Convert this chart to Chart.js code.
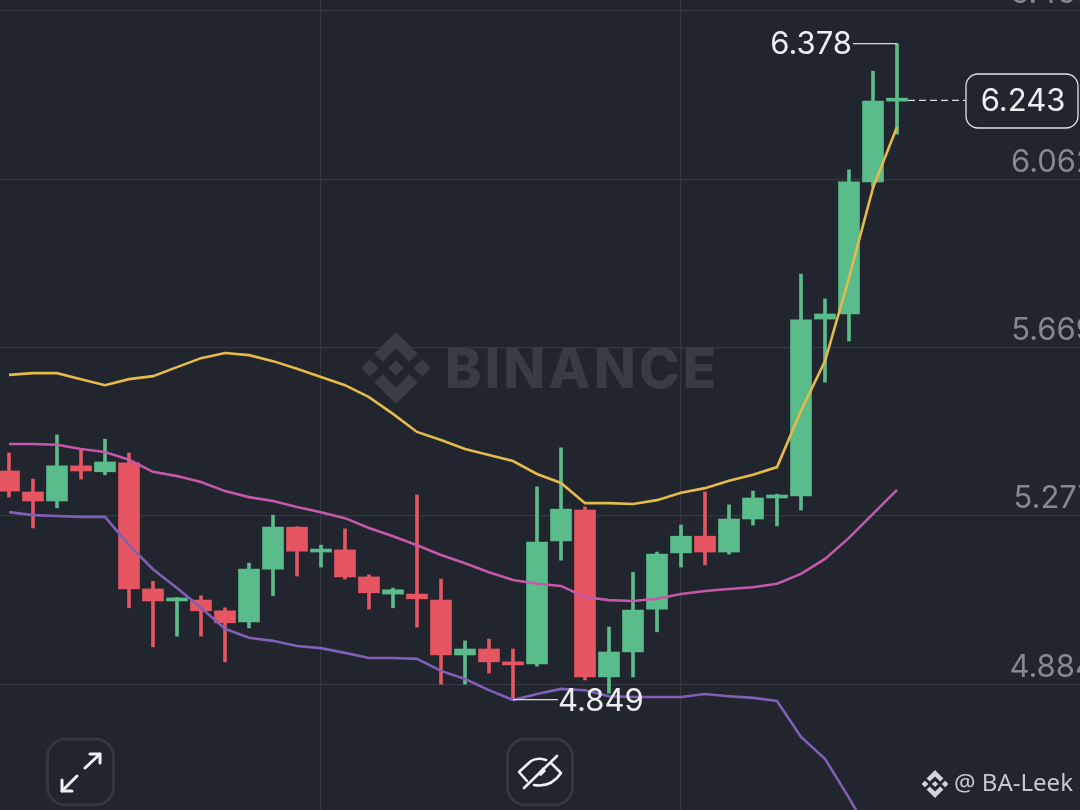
<!DOCTYPE html>
<html>
<head>
<meta charset="utf-8">
<style>
html,body{margin:0;padding:0;background:#21252e;overflow:hidden}
#wrap{width:1080px;height:810px;position:relative}
canvas{display:block}
</style>
<script src="https://cdn.jsdelivr.net/npm/chart.js@4/dist/chart.umd.min.js"></script>
</head>
<body>
<div id="wrap"><canvas id="c" width="1080" height="810"></canvas></div>
<script>
const opens =[5.382,5.333,5.312,5.394,5.380,5.401,5.107,5.079,5.081,5.056,5.030,5.153,5.251,5.193,5.198,5.135,5.095,5.095,5.081,4.953,4.967,4.937,4.932,5.219,5.291,4.902,4.960,5.060,5.191,5.230,5.193,5.270,5.319,5.324,5.736,5.748,6.056,6.244];
const highs =[5.424,5.363,5.466,5.431,5.456,5.424,5.125,5.087,5.091,5.063,5.167,5.279,5.252,5.209,5.247,5.140,5.109,5.326,5.130,4.986,4.990,4.967,5.345,5.436,5.298,5.018,5.146,5.193,5.256,5.333,5.303,5.335,5.328,5.841,5.783,6.084,6.314,6.378];
const lows  =[5.321,5.249,5.296,5.363,5.373,5.063,4.972,4.997,4.997,4.937,5.016,5.091,5.137,5.158,5.130,5.060,5.063,5.018,4.885,4.885,4.911,4.849,4.927,5.174,4.895,4.864,4.902,5.007,5.158,5.163,5.188,5.256,5.254,5.291,5.589,5.685,6.044,6.167];
const closes=[5.335,5.312,5.394,5.382,5.403,5.107,5.079,5.086,5.056,5.028,5.153,5.251,5.195,5.200,5.135,5.098,5.105,5.084,4.953,4.967,4.937,4.930,5.216,5.293,4.902,4.960,5.058,5.188,5.230,5.193,5.270,5.319,5.326,5.734,5.748,6.056,6.244,6.251];
const upperBand=[5.606,5.610,5.610,5.596,5.582,5.596,5.603,5.624,5.645,5.657,5.652,5.638,5.620,5.601,5.582,5.554,5.515,5.473,5.454,5.433,5.419,5.405,5.375,5.354,5.307,5.307,5.305,5.314,5.331,5.342,5.359,5.373,5.391,5.522,5.638,5.832,6.042,6.184];
const middleBand=[5.445,5.445,5.443,5.433,5.426,5.408,5.380,5.370,5.356,5.335,5.321,5.312,5.298,5.286,5.272,5.249,5.230,5.209,5.186,5.167,5.146,5.128,5.119,5.114,5.088,5.081,5.079,5.084,5.095,5.102,5.107,5.111,5.119,5.142,5.177,5.226,5.282,5.338];
const lowerBand=[5.286,5.279,5.277,5.275,5.275,5.209,5.153,5.109,5.063,5.014,4.993,4.986,4.974,4.969,4.958,4.946,4.946,4.944,4.916,4.897,4.871,4.848,4.862,4.874,4.871,4.857,4.855,4.855,4.855,4.862,4.857,4.853,4.846,4.762,4.711,4.620,4.522,4.491];
const priceTicks=[4.884,5.277,5.669,6.062,6.455];
const timeGridIndex=[13,28];
const highMark={index:37,value:6.378,label:'6.378'};
const lowMark={index:21,value:4.849,label:'4.849'};
const lastPrice={value:6.246,label:'6.243'};

const BG='#21252e',GREEN='#5abb8b',RED='#e55562',GRID='#343842',TICK='#85898f',WHITE='#eceef0';
const FONT='Inter, "Noto Sans", sans-serif';
const isUp=i=>closes[i]>=opens[i];
const candleColors=opens.map((_,i)=>isUp(i)?GREEN:RED);

function logo(ctx,cx,cy,r,color){
  ctx.save();ctx.translate(cx,cy);ctx.scale(r,r);ctx.fillStyle=color;
  const poly=p=>{ctx.beginPath();p.forEach((q,k)=>k?ctx.lineTo(q[0],q[1]):ctx.moveTo(q[0],q[1]));ctx.closePath();ctx.fill();};
  const dia=(x,h)=>poly([[x-h,0],[x,-h],[x+h,0],[x,h]]);
  dia(0,0.22);dia(-0.72,0.24);dia(0.72,0.24);
  poly([[0,-1],[0.6,-0.4],[0.37,-0.17],[0,-0.54],[-0.37,-0.17],[-0.6,-0.4]]);
  poly([[0,1],[0.6,0.4],[0.37,0.17],[0,0.54],[-0.37,0.17],[-0.6,0.4]]);
  ctx.restore();
}
const watermark={id:'watermark',beforeDatasetsDraw(ch){
  const c=ch.ctx;c.save();
  logo(c,396,368,36,'#383c45');
  c.fillStyle='#383c45';c.font='800 55px '+FONT;c.textAlign='left';c.textBaseline='alphabetic';
  c.letterSpacing='3px';
  c.fillText('BINANCE',445,388);
  c.restore();
}};
function seg(c,pts){c.beginPath();pts.forEach((p,k)=>k?c.lineTo(p[0],p[1]):c.moveTo(p[0],p[1]));c.stroke();}
const overlay={id:'overlay',afterDatasetsDraw(ch){
  const c=ch.ctx,x=ch.scales.x,y=ch.scales.y;c.save();
  c.font='400 31px '+FONT;c.textBaseline='middle';c.fillStyle=WHITE;c.strokeStyle='#d9dbde';c.lineWidth=1.3;
  const hx=x.getPixelForValue(highMark.index),hy=y.getPixelForValue(highMark.value);
  seg(c,[[hx,hy],[hx-44,hy]]);
  c.textAlign='right';c.fillText(highMark.label,hx-45,hy+1);
  const lx=x.getPixelForValue(lowMark.index),ly=y.getPixelForValue(lowMark.value);
  seg(c,[[lx,ly],[lx+45,ly]]);
  c.textAlign='left';c.fillText(lowMark.label,lx+45,ly+2);
  const py=y.getPixelForValue(lastPrice.value),px=x.getPixelForValue(highMark.index)+11;
  c.setLineDash([7,4]);seg(c,[[px,py],[965,py]]);c.setLineDash([]);
  c.beginPath();c.roundRect(966,74,112,54,12);c.fillStyle=BG;c.fill();c.strokeStyle='#dfe1e4';c.stroke();
  c.fillStyle=WHITE;c.textAlign='center';c.fillText(lastPrice.label,1023,102);
  // buttons
  c.strokeStyle='#343842';c.lineWidth=3;
  c.beginPath();c.roundRect(47.5,739,66,66,18);c.stroke();
  c.beginPath();c.roundRect(507.5,739,65,66,18);c.stroke();
  c.strokeStyle='#eef0f2';c.lineWidth=3;c.lineCap='round';c.lineJoin='round';
  seg(c,[[85,768],[100,754]]);seg(c,[[90,754],[100,754],[100,763]]);
  seg(c,[[77,776],[62,791]]);seg(c,[[62,780],[62,791],[72,791]]);
  // eye
  c.lineWidth=2.6;
  c.beginPath();c.moveTo(546,760);c.quadraticCurveTo(537,757,531,761);c.lineTo(519,772);c.lineTo(527,781);c.stroke();
  c.beginPath();c.moveTo(551,763);c.lineTo(561,773);c.quadraticCurveTo(551,788,534,785);c.stroke();
  seg(c,[[557,756],[524,788]]);
  c.fillStyle='#eef0f2';c.beginPath();c.moveTo(543,767);c.lineTo(546,771);c.lineTo(541,776);c.lineTo(537,774);c.closePath();c.fill();
  // credit
  logo(c,935,784,14,'#d3d5d9');
  c.font='400 24px "Noto Sans", sans-serif';c.fillStyle='#c4c7cc';c.textAlign='left';c.fillText('@ BA-Leek',954,784);
  c.restore();
}};

new Chart(document.getElementById('c'),{
  type:'bar',
  data:{datasets:[
    {type:'line',label:'Upper',data:upperBand.map((v,i)=>({x:i,y:v})),borderColor:'#e5b94c',borderWidth:2.6,pointRadius:0,tension:0,order:0},
    {type:'line',label:'Middle',data:middleBand.map((v,i)=>({x:i,y:v})),borderColor:'#c558a8',borderWidth:2.6,pointRadius:0,tension:0,order:0},
    {type:'line',label:'Lower',data:lowerBand.map((v,i)=>({x:i,y:v})),borderColor:'#7f60b6',borderWidth:2.6,pointRadius:0,tension:0,order:0},
    {label:'Body',data:opens.map((o,i)=>({x:i,y:[o,closes[i]]})),backgroundColor:candleColors,barThickness:21,grouped:false,order:1},
    {label:'Wick',data:highs.map((h,i)=>({x:i,y:[lows[i],h]})),backgroundColor:candleColors,barThickness:3,grouped:false,order:2}
  ]},
  options:{
    responsive:false,animation:false,devicePixelRatio:1,
    layout:{padding:0,autoPadding:false},
    plugins:{legend:{display:false},tooltip:{enabled:false}},
    scales:{
      x:{type:'linear',min:-0.375,max:44.625,offset:false,border:{display:false},
        grid:{color:GRID,lineWidth:1.2,drawTicks:false,offset:false},
        ticks:{display:false},
        afterBuildTicks(s){s.ticks=timeGridIndex.map(v=>({value:v}));}},
      y:{type:'linear',position:'right',min:4.5917,max:6.4798,border:{display:false},
        grid:{color:GRID,lineWidth:1.2,drawTicks:false,tickLength:0},
        ticks:{mirror:true,padding:15,color:TICK,font:{family:'Inter',size:31,weight:'400'},labelOffset:-17,autoSkip:false,
          callback:v=>v.toFixed(3)},
        afterBuildTicks(s){s.ticks=priceTicks.map(v=>({value:v}));},
        afterFit(s){s.width=0;s.paddingTop=0;s.paddingBottom=0;s.paddingLeft=0;s.paddingRight=0;}}
    }
  },
  plugins:[watermark,overlay]
});
</script>
</body>
</html>
